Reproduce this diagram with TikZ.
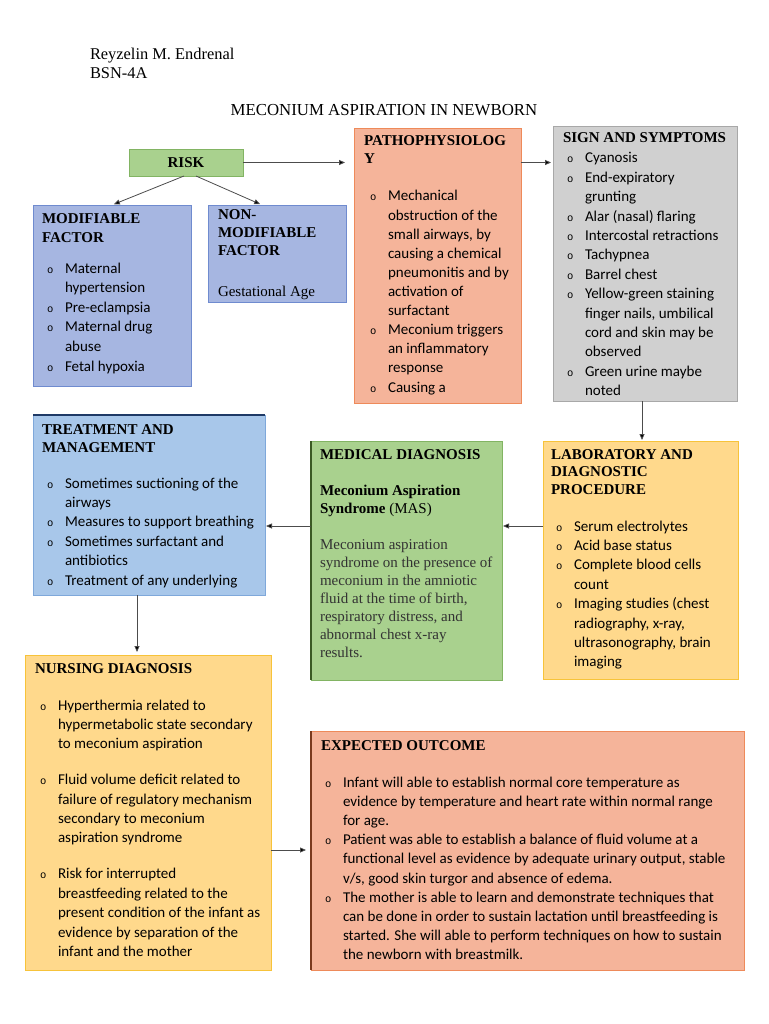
\documentclass[tikz,border=0pt]{standalone}
\usepackage{fontspec}
\setmainfont{Liberation Serif}
\newfontfamily\calib{Carlito}
\newfontfamily\bulfont{Liberation Mono}
\usetikzlibrary{arrows.meta}
\definecolor{gfill}{HTML}{A9D18E}
\definecolor{gline}{HTML}{82B463}
\definecolor{gdark}{HTML}{3B5A24}
\definecolor{pfill}{HTML}{A6B6E1}
\definecolor{pline}{HTML}{6F8BCF}
\definecolor{sfill}{HTML}{F5B49A}
\definecolor{sline}{HTML}{EE8A5A}
\definecolor{sdark}{HTML}{7A3A1E}
\definecolor{grfill}{HTML}{D0D0D0}
\definecolor{grline}{HTML}{A8A8A8}
\definecolor{yfill}{HTML}{FFD98C}
\definecolor{yline}{HTML}{F7C33A}
\definecolor{bfill}{HTML}{A8C7EA}
\definecolor{bline}{HTML}{7FA8DA}
\definecolor{bdark}{HTML}{1F3A66}
\definecolor{txtgray}{HTML}{333333}
\newcommand\hd{\fontsize{15}{18}\selectfont\bfseries}
\newcommand\bd{\calib\fontsize{15}{19.5}\selectfont}
\newcommand\bul{\makebox[18pt][l]{\bulfont\fontsize{10.5}{10}\selectfont o}}
\newcommand\itm[1]{\par\noindent\hangindent=18pt\hangafter=1\bul#1}
\tikzset{
  box/.style={draw, line width=0.9pt, anchor=north west, inner sep=0pt, outer sep=0pt},
  txt/.style={anchor=base west, inner sep=0pt, outer sep=0pt},
  arr/.style={draw=black!70, line width=0.8pt, -{Triangle[length=6pt,width=5pt,fill=black]}}
}
\begin{document}
\begin{tikzpicture}[x=1pt,y=-1pt]
\useasboundingbox[fill=white] (0,0) rectangle (768,1024);

% header
\node[txt] (auth) at (90,60) {\parbox[t]{220pt}{\fontsize{16.4}{19}\selectfont Reyzelin M. Endrenal\\BSN-4A}};
\node[txt, anchor=base] (title) at (384,116) {\fontsize{16.8}{18}\selectfont MECONIUM ASPIRATION IN NEWBORN};

% boxes
\node[box, fill=gfill, draw=gline, minimum width=114, minimum height=27] (risk) at (129,149) {};
\node[anchor=center, inner sep=0pt] (risktxt) at (risk.center) {\hd RISK};
\node[box, fill=pfill, draw=pline, minimum width=158, minimum height=181] (mod) at (33,205) {};
\node[box, fill=pfill, draw=pline, minimum width=138, minimum height=97] (nonmod) at (208,205) {};
\node[box, fill=sfill, draw=sline, minimum width=167, minimum height=275] (patho) at (354,128) {};
\node[box, fill=grfill, draw=grline, minimum width=184, minimum height=275] (signs) at (553,126) {};
\node[box, fill=yfill, draw=yline, minimum width=195, minimum height=238] (lab) at (543,441) {};
\node[box, fill=gfill, draw=gline, minimum width=191, minimum height=239] (med) at (311,441) {};
\node[box, fill=bfill, draw=bline, minimum width=232, minimum height=180] (treat) at (33,415) {};
\node[box, fill=yfill, draw=yline, minimum width=246, minimum height=315] (nurs) at (25,655) {};
\node[box, fill=sfill, draw=sline, minimum width=433, minimum height=239] (exp) at (311,731) {};
\draw[bdark, line width=1.3pt] (treat.north west) -- (treat.north east);
\draw[gdark, line width=1.2pt] (med.north west) -- (med.south west);
\draw[sdark, line width=1.2pt] (exp.north west) -- (exp.south west);

% texts
\node[txt] (modh) at (42,224) {\parbox[t]{150pt}{\hd MODIFIABLE\\FACTOR}};
\node[txt] (modb) at (47,273) {\parbox[t]{150pt}{\bd\baselineskip=19.6pt
 \itm{Maternal\\hypertension}\itm{Pre-eclampsia}\itm{Maternal drug\\abuse}\itm{Fetal hypoxia}}};
\node[txt] (nonh) at (218,219) {\parbox[t]{130pt}{\hd NON-\\MODIFIABLE\\FACTOR}};
\node[txt] (nonb) at (218,296) {\fontsize{15}{18}\selectfont Gestational Age};

\node[txt] (pathh) at (364,146) {\parbox[t]{165pt}{\hd PATHOPHYSIOLOG\\Y}};
\node[txt] (pathb) at (370,201) {\parbox[t]{165pt}{\bd\baselineskip=19.1pt
 \itm{Mechanical\\obstruction of the\\small airways, by\\causing a chemical\\pneumonitis and by\\activation of\\surfactant}\itm{Meconium triggers\\an inflammatory\\response}\itm{Causing a}}};

\node[txt] (signh) at (563,143) {\hd SIGN AND SYMPTOMS};
\node[txt] (signb) at (567,163) {\parbox[t]{185pt}{\bd\baselineskip=19.4pt
 \itm{Cyanosis}\itm{End-expiratory\\grunting}\itm{Alar (nasal) flaring}\itm{Intercostal retractions}\itm{Tachypnea}\itm{Barrel chest}\itm{Yellow-green staining\\finger nails, umbilical\\cord and skin may be\\observed}\itm{Green urine maybe\\noted}}};

\node[txt] (treath) at (42,434) {\parbox[t]{225pt}{\hd TREATMENT AND\\MANAGEMENT}};
\node[txt] (treatb) at (47,488) {\parbox[t]{225pt}{\bd\baselineskip=19.4pt
 \itm{Sometimes suctioning of the\\airways}\itm{Measures to support breathing}\itm{Sometimes surfactant and\\antibiotics}\itm{Treatment of any underlying}}};

\node[txt] (medh) at (320,459) {\hd MEDICAL DIAGNOSIS};
\node[txt] (meds) at (320,495) {\parbox[t]{185pt}{\fontsize{15}{18}\selectfont\textbf{Meconium Aspiration}\\\textbf{Syndrome} (MAS)}};
\node[txt] (medb) at (320,540) {\parbox[t]{190pt}{\color{txtgray}\fontsize{15}{18}\selectfont Meconium aspiration\\syndrome on the presence of\\meconium in the amniotic\\fluid at the time of birth,\\respiratory distress, and\\abnormal chest x-ray\\results.}};

\node[txt] (labh) at (551,459) {\parbox[t]{190pt}{\hd\baselineskip=17.6pt LABORATORY AND\\DIAGNOSTIC\\PROCEDURE}};
\node[txt] (labb) at (556,531) {\parbox[t]{190pt}{\bd\baselineskip=19.4pt
 \itm{Serum electrolytes}\itm{Acid base status}\itm{Complete blood cells\\count}\itm{Imaging studies (chest\\radiography, x-ray,\\ultrasonography, brain\\imaging}}};

\node[txt] (nursh) at (35,673) {\hd NURSING DIAGNOSIS};
\node[txt] (nursb) at (40,710) {\parbox[t]{240pt}{\bd\baselineskip=19.4pt
 \itm{Hyperthermia related to\\hypermetabolic state secondary\\to meconium aspiration}\par\vspace{16.5pt}
 \itm{Fluid volume deficit related to\\failure of regulatory mechanism\\secondary to meconium\\aspiration syndrome}\par\vspace{16.5pt}
 \itm{Risk for interrupted\\breastfeeding related to the\\present condition of the infant as\\evidence by separation of the\\infant and the mother}}};

\node[txt] (exph) at (321,750) {\hd EXPECTED OUTCOME};
\node[txt] (expb) at (325,787) {\parbox[t]{440pt}{\bd\baselineskip=19.2pt
 \itm{Infant will able to establish normal core temperature as\\evidence by temperature and heart rate within normal range\\for age.}\itm{Patient was able to establish a balance of fluid volume at a\\functional level as evidence by adequate urinary output, stable\\v/s, good skin turgor and absence of edema.}\itm{The mother is able to learn and demonstrate techniques that\\can be done in order to sustain lactation until breastfeeding is\\started. She will able to perform techniques on how to sustain\\the newborn with breastmilk.}}};

% connectors
\draw[arr, shorten >=9pt] (risk.east) -- (patho.west |- risk.east);
\draw[arr, shorten >=2pt] ([xshift=-2pt]risk.south) -- ([xshift=0pt]mod.north);
\draw[arr, shorten >=2pt] ([xshift=10pt]risk.south) -- ([xshift=-15pt]nonmod.north);
\draw[arr, shorten >=2pt] (patho.east |- risk.east) -- (signs.west |- risk.east);
\draw[arr, shorten >=1pt] ([xshift=-3pt]signs.south) -- ([xshift=-3pt]signs.south |- lab.north);
\draw[arr, shorten >=1pt] ([yshift=-85pt]lab.north west) -- ([yshift=-85pt]med.north east);
\draw[arr, shorten >=1pt] ([yshift=-85pt]med.north west) -- ([yshift=-85pt]med.north west -| treat.east);
\draw[arr, shorten >=3pt] ([xshift=-12pt]treat.south) -- ([xshift=-12pt]treat.south |- nurs.north);
\draw[arr, shorten >=5pt] ([yshift=-195pt]nurs.north east) -- ([yshift=-195pt]nurs.north east -| exp.west);
\end{tikzpicture}
\end{document}
